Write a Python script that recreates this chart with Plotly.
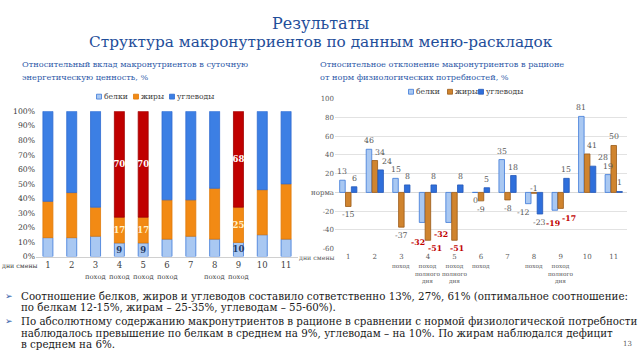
import plotly.graph_objects as go

# ---------------- data ----------------
days = [1, 2, 3, 4, 5, 6, 7, 8, 9, 10, 11]
left_hike = ["", "", "поход", "поход", "поход", "поход", "", "поход", "поход", "", ""]
right_hike = ["", "", "поход", "поход<br>полного<br>дня", "поход<br>полного<br>дня", "поход",
              "", "поход", "поход<br>полного<br>дня", "", ""]
full_day_hikes = [4, 5, 9]

share_protein = [13, 13, 14, 9, 9, 12, 14, 12, 10, 15, 12]
share_fat = [25, 31, 20, 17, 17, 27, 25, 35, 25, 31, 38]
share_carb = [62, 56, 66, 70, 70, 61, 61, 53, 68, 54, 50]

dev_protein = [13, 46, 15, -32, -32, 0, 35, -12, -19, 81, 19]
dev_fat = [-15, 34, -37, -51, -51, -9, -8, -1, -17, 41, 50]
dev_carb = [6, 24, 8, 8, 8, 5, 18, -23, 15, 28, 1]

left_yticks = [0, 10, 20, 30, 40, 50, 60, 70, 80, 90, 100]
right_yticks = [-60, -40, -20, 0, 20, 40, 60, 80, 100]

series_names = ["белки", "жиры", "углеводы"]

# ---------------- styling ----------------
W, H = 640, 360
def px(x): return x / W
def py(y): return 1 - y / H

SERIF = "DejaVu Serif"
TITLE_C = "#1F4E9A"
GRAY = "#595959"
DARK = "#404040"

L_COLORS = ["#A9C8F2", "#F28A14", "#3C7FE4"]
L_LINES = ["#3C78D8", "#E07A08", "#2E6BD0"]
R_COLORS = ["#A9C8F2", "#D0842E", "#2F6FDB"]
R_LINES = ["#3C78D8", "#9A5A18", "#2458B8"]
RED = "#C00000"
BARGAP = 0.34

# label nudges (pixels) for crowded data labels of the right chart: (series, day) -> (dx, dy)
label_nudge = {(1, 2): (5, 0), (2, 2): (6, 0), (0, 4): (-4, -12), (1, 4): (7, 0),
               (0, 5): (-8, -4), (1, 5): (3, 0), (1, 8): (0, 13), (0, 8): (-5, 0),
               (0, 9): (-2, -5), (1, 9): (8, -2), (1, 10): (5, 0), (2, 10): (10, 0)}

# normalise left data to percent
tot = [a + b + c for a, b, c in zip(share_protein, share_fat, share_carb)]
p_pct = [a / t * 100 for a, t in zip(share_protein, tot)]
f_pct = [b / t * 100 for b, t in zip(share_fat, tot)]
c_pct = [c / t * 100 for c, t in zip(share_carb, tot)]
f_base = p_pct
c_base = [a + b for a, b in zip(p_pct, f_pct)]

is_full = [d in full_day_hikes for d in days]
carb_colors = [RED if f else L_COLORS[2] for f in is_full]
carb_lines = ["#A00000" if f else L_LINES[2] for f in is_full]

fig = go.Figure()
BW = 0.42
common_in = dict(textposition="inside", insidetextanchor="middle", textangle=0,
                 constraintext="none", showlegend=False, xaxis="x", yaxis="y", offsetgroup="L", width=BW)
fig.add_trace(go.Bar(
    x=days, y=p_pct, name=series_names[0],
    marker=dict(color=L_COLORS[0], line=dict(color=L_LINES[0], width=0.8)),
    text=[str(v) if f else "" for v, f in zip(share_protein, is_full)],
    textfont=dict(family=SERIF, size=8.5, color="#1F3864", weight="bold"), **common_in))
fig.add_trace(go.Bar(
    x=days, y=f_pct, base=f_base, name=series_names[1],
    marker=dict(color=L_COLORS[1], line=dict(color=L_LINES[1], width=0.8)),
    text=[str(v) if f else "" for v, f in zip(share_fat, is_full)],
    textfont=dict(family=SERIF, size=8.5, color="#FFF2CC", weight="bold"), **common_in))
fig.add_trace(go.Bar(
    x=days, y=c_pct, base=c_base, name=series_names[2],
    marker=dict(color=carb_colors, line=dict(color=carb_lines, width=0.8)),
    text=[str(v) if f else "" for v, f in zip(share_carb, is_full)],
    textfont=dict(family=SERIF, size=8.5, color="#FFFFFF", weight="bold"), **common_in))

dev_series = [dev_protein, dev_fat, dev_carb]
for i, vals in enumerate(dev_series):
    fig.add_trace(go.Bar(
        x=days, y=vals, name=series_names[i], offsetgroup=str(i), showlegend=False,
        marker=dict(color=R_COLORS[i], line=dict(color=R_LINES[i], width=0.8)),
        xaxis="x2", yaxis="y2"))

fig.update_layout(
    width=W, height=H, margin=dict(l=0, r=0, t=0, b=0),
    paper_bgcolor="white", plot_bgcolor="white",
    barmode="group", bargap=BARGAP, bargroupgap=0.05, showlegend=False,
    font=dict(family=SERIF, size=9, color=GRAY),
    xaxis=dict(domain=[px(36), px(298)], range=[0.5, 11.5], tickvals=days, ticktext=[str(d) for d in days],
               tickangle=0, showgrid=False, zeroline=False, showline=True, linecolor="#D0D0D0",
               ticks="", tickfont=dict(family=SERIF, size=8.5, color=DARK), anchor="y"),
    yaxis=dict(domain=[py(259), py(110)], range=[0, 100], tickvals=left_yticks,
               ticktext=[f"{v}%" for v in left_yticks], showgrid=False, zeroline=False,
               tickfont=dict(family=SERIF, size=7.7, color=DARK), anchor="x"),
    xaxis2=dict(domain=[px(335), px(627)], range=[0.5, 11.5], tickvals=days, ticktext=[str(d) for d in days],
                tickangle=0, showgrid=False, zeroline=False, showline=False, ticks="",
                tickfont=dict(family=SERIF, size=7, color=GRAY), anchor="free", position=py(253)),
    yaxis2=dict(domain=[py(251), py(97)], range=[-60, 100], tickvals=right_yticks,
                ticktext=["норма" if v == 0 else str(v) for v in right_yticks],
                showgrid=True, gridcolor="#E2E2E2", gridwidth=0.8, zeroline=True,
                zerolinecolor="#D8D8D8", zerolinewidth=0.8,
                tickfont=dict(family=SERIF, size=7, color=GRAY), anchor="x2"),
)

ann = []
shapes = []
ann.append(dict(text="Результаты", x=px(320), y=py(20), font=dict(size=16, color=TITLE_C)))
ann.append(dict(text="Структура макронутриентов по данным меню-раскладок", x=px(321), y=py(39),
                font=dict(size=15.3, color=TITLE_C)))
for t, x, y in [("Относительный вклад макронутриентов в суточную", 20, 62),
                ("энергетическую ценность, %", 20, 75),
                ("Относительное отклонение макронутриентов в рационе", 318, 62),
                ("от норм физиологических потребностей, %", 318, 75)]:
    ann.append(dict(text=t, x=px(x), y=py(y), xanchor="left", font=dict(size=8.2, color="#2E5AA8")))
ann.append(dict(text="дни смены", x=px(40), y=py(268), xanchor="right", font=dict(size=6.3, color=DARK)))
ann.append(dict(text="дни смены", x=px(337), y=py(260), xanchor="right", font=dict(size=6.3, color=GRAY)))

# hike captions under the day numbers
for d, h in zip(days, left_hike):
    if h:
        ann.append(dict(text=h, x=d, xref="x", y=py(280), font=dict(size=6.8, color=DARK)))
for d, h in zip(days, right_hike):
    if h:
        ann.append(dict(text=h, x=d, xref="x2", y=py(264), yanchor="top",
                        font=dict(size=5.8, color=GRAY)))

# data labels of the right chart, anchored at the bar ends via the axes
slot = (1 - BARGAP) / 3
for i, vals in enumerate(dev_series):
    for d, v in zip(days, vals):
        dx, dy = label_nudge.get((i, d), (0, 0))
        red = (i < 2) and (d in full_day_hikes)
        ann.append(dict(text=str(v), x=d + (i - 1) * slot, xref="x2", y=v, yref="y2",
                        yanchor="bottom" if v > 0 else "top", xshift=dx,
                        yshift=(2 if v > 0 else -2) + dy,
                        font=dict(size=7.8, color=RED if red else GRAY,
                                  weight="bold" if red else "normal")))

# legends (compact, like the reference)
def legend(xs, y, fills, lines):
    for x, name, fc, lc in zip(xs, series_names, fills, lines):
        shapes.append(dict(type="rect", xref="paper", yref="paper",
                           x0=px(x - 2.5), x1=px(x + 2.5), y0=py(y + 2.5), y1=py(y - 2.5),
                           fillcolor=fc, line=dict(color=lc, width=0.8)))
        ann.append(dict(text=name, x=px(x + 3), y=py(y), xanchor="left",
                        font=dict(size=7.6, color=DARK)))
legend([99, 136, 172], 95, L_COLORS, L_LINES)
legend([411, 450, 481], 90, R_COLORS, R_LINES)

bullets = [
    (299, True, "Соотношение белков, жиров и углеводов составило сответственно 13%, 27%, 61% (оптимальное соотношение:"),
    (311, False, "по белкам 12-15%, жирам – 25-35%, углеводам – 55-60%)."),
    (325, True, "По абсолютному содержанию макронутриентов в рационе в сравнении с нормой физиологической потребности"),
    (337, False, "наблюдалось превышение по белкам в среднем на 9%, углеводам – на 10%. По жирам наблюдался дефицит"),
    (349, False, "в среднем на 6%."),
]
for y, arrow, t in bullets:
    if arrow:
        ann.append(dict(text="➢", x=px(3), y=py(y), xanchor="left", font=dict(size=9, color="#2E5AA8")))
    ann.append(dict(text=t, x=px(19), y=py(y), xanchor="left", font=dict(size=10.3, color="#1A1A1A")))
ann.append(dict(text="13", x=px(634), y=py(349), xanchor="right", font=dict(size=7, color=GRAY)))

for a in ann:
    a.setdefault("xref", "paper"); a.setdefault("yref", "paper")
    a.setdefault("showarrow", False); a.setdefault("yanchor", "middle")
    a["font"].setdefault("family", SERIF)
fig.update_layout(annotations=ann, shapes=shapes)

fig.write_html("out.html", config={"displayModeBar": False},
               post_script="document.body.style.margin='0';document.body.style.padding='0';"
                           "document.body.style.overflow='hidden';")
